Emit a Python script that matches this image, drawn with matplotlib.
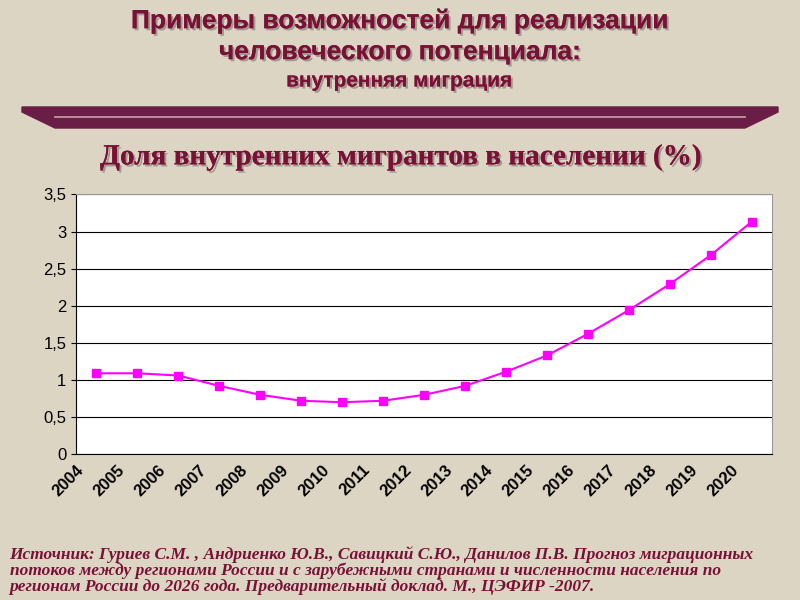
import numpy as np
import matplotlib.pyplot as plt
import matplotlib.patheffects as pe
from matplotlib.patches import Polygon

years = [str(y) for y in range(2004, 2021)]
share = [1.09, 1.09, 1.06, 0.92, 0.80, 0.72, 0.70, 0.72, 0.80, 0.92,
         1.11, 1.33, 1.62, 1.94, 2.29, 2.68, 3.13]
yticks = [0, 0.5, 1, 1.5, 2, 2.5, 3, 3.5]
ylabels = ['0', '0,5', '1', '1,5', '2', '2,5', '3', '3,5']

bg = '#ddd5c4'
maroon = '#7a1035'
shadow = [pe.withSimplePatchShadow(offset=(1.5, -1.5), shadow_rgbFace='#a09a90', alpha=1), pe.Normal()]
fig = plt.figure(figsize=(8, 6), dpi=100, facecolor=bg)

# titles
for txt, y, size in [('Примеры возможностей для реализации', 0.965, 19),
                     ('человеческого потенциала:', 0.913, 19),
                     ('внутренняя миграция', 0.865, 15)]:
    fig.text(0.5, y, txt, ha='center', va='center', fontsize=size, fontweight='bold',
             family='Liberation Sans', color=maroon, path_effects=shadow)

# banner bar
ov = fig.add_axes([0, 0, 1, 1], zorder=-1)
ov.set_xlim(0, 800); ov.set_ylim(600, 0); ov.axis('off')
ov.add_patch(Polygon([[22, 107], [778, 107], [778, 112], [745, 128], [55, 128], [22, 112]],
                     closed=True, color='#6b1e45'))
ov.plot([55, 745], [117, 117], color='#c7a0b0', lw=1.2)

fig.text(0.5, 0.738, 'Доля внутренних мигрантов в населении (%)', ha='center', va='center',
         fontsize=21, fontweight='bold', family='Liberation Serif', color=maroon,
         path_effects=shadow)

ax = fig.add_axes([0.095, 0.243, 0.87, 0.433])
x = np.arange(len(years))
ax.plot(x, share, color='#ff00ff', lw=1.5, marker='s', markersize=6)
ax.set_xlim(-0.5, len(years) - 0.5)
ax.set_ylim(0, 3.5)
ax.set_yticks(yticks, ylabels, fontsize=12, family='Liberation Sans')
ax.set_xticks(x - 0.5, years, rotation=45, fontsize=12,
              fontweight='bold', family='Liberation Sans')
for lbl in ax.get_xticklabels():
    lbl.set_ha('right'); lbl.set_rotation_mode('anchor')
ax.tick_params(axis='x', length=0, pad=6)
ax.grid(axis='y', color='black', lw=0.8)
ax.set_facecolor('white')
for s in ['top', 'right']:
    ax.spines[s].set_color('#999999')
ax.set_axisbelow(True)

src = ('Источник: Гуриев С.М. , Андриенко Ю.В., Савицкий С.Ю., Данилов П.В. Прогноз миграционных\n'
       'потоков между регионами России и с зарубежными странами и численности населения по\n'
       'регионам России до 2026 года. Предварительный доклад. М., ЦЭФИР -2007.')
fig.text(0.012, 0.008, src, ha='left', va='bottom', fontsize=12.5, style='italic',
         fontweight='bold', family='Liberation Serif', color=maroon, linespacing=0.95)

fig.savefig('out.png', facecolor=bg)
